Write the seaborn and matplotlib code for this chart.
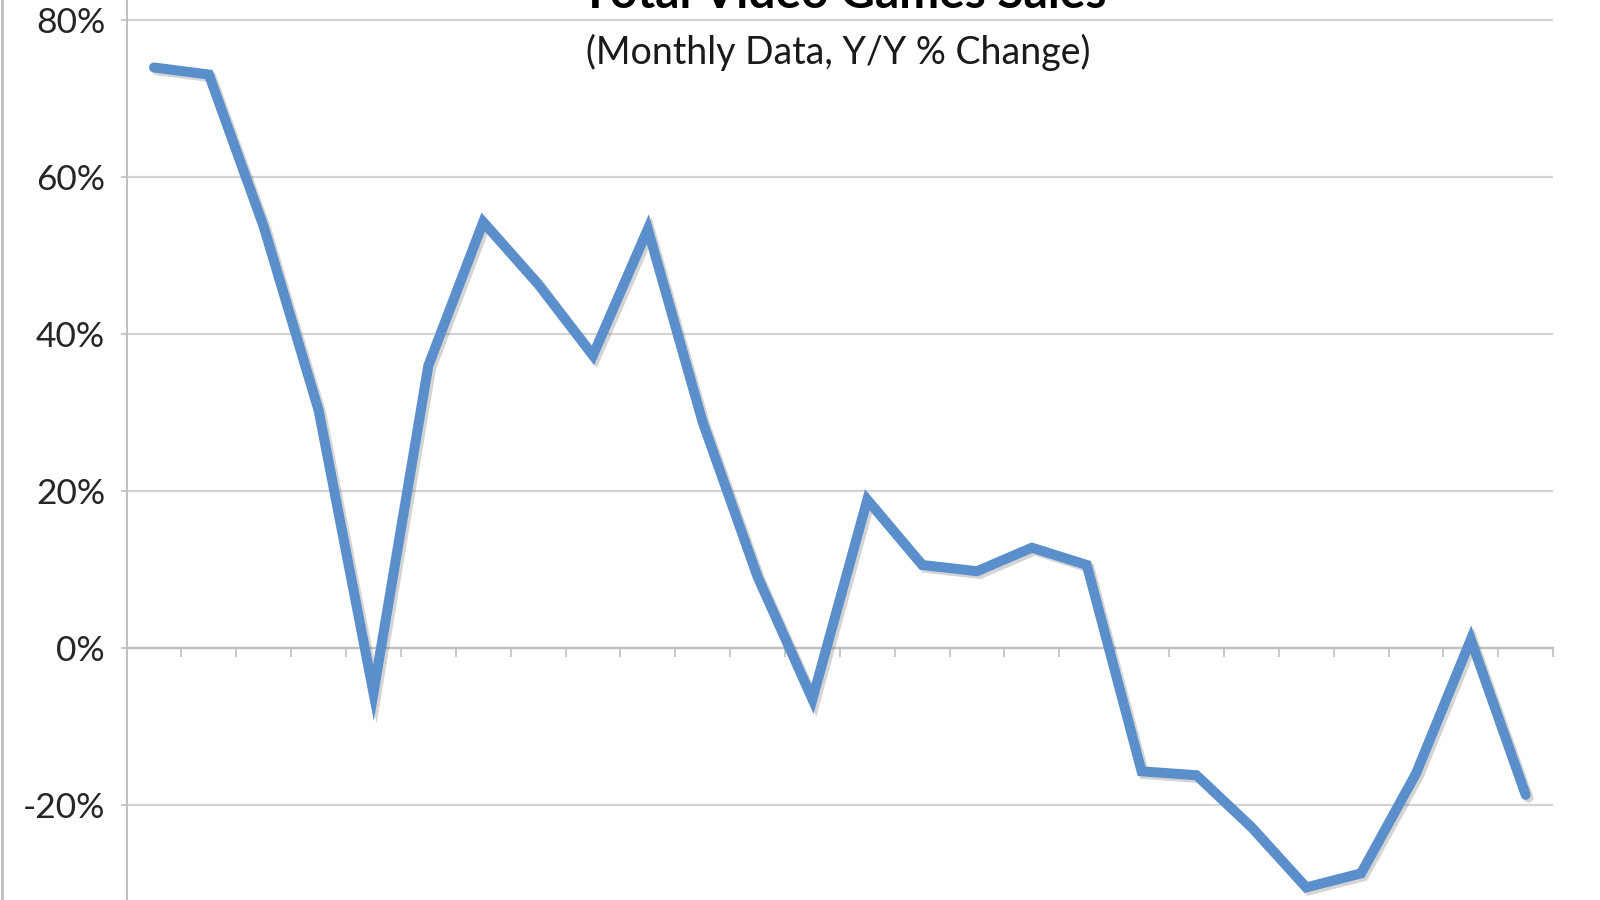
import numpy as np
import pandas as pd
import matplotlib
matplotlib.use("Agg")
import matplotlib.pyplot as plt
import matplotlib.patheffects as pe
from matplotlib.lines import Line2D
from matplotlib.ticker import FuncFormatter
import seaborn as sns

# Monthly Y/Y % change (26 months)
months = list(range(1, 27))
yoy_change = [74.0, 73.1, 53.7, 30.3, -5.7, 36.0, 54.3, 46.4, 37.3, 53.4,
              28.8, 9.1, -6.5, 18.9, 10.6, 9.8, 12.8, 10.6, -15.7, -16.2,
              -22.8, -30.5, -28.7, -16.0, 1.1, -18.7]
y_ticks = [-20, 0, 20, 40, 60, 80]

title = "Total Video Games Sales"
subtitle = "(Monthly Data, Y/Y % Change)"

df = pd.DataFrame({"month": months, "change": yoy_change})

sns.set_style("white")
plt.rcParams["font.family"] = ["Lato", "DejaVu Sans"]

fig = plt.figure(figsize=(16, 9), dpi=100)
ax = fig.add_axes([0.0791, 0.0, 0.8916, 1.0])

sns.lineplot(data=df, x="month", y="change", ax=ax, color="#5A8FCB",
             linewidth=7.2, solid_joinstyle="miter", zorder=3,
             path_effects=[pe.SimpleLineShadow(offset=(2, -2), shadow_color="#555555", alpha=0.25),
                           pe.Normal()])

ax.set_xlim(months[0] - 0.5, months[-1] + 0.5)
ax.set_ylim(-32.1, 82.6)

# horizontal gridlines
ax.set_yticks(y_ticks)
ax.yaxis.grid(True, color="#D3D3D3", linewidth=1.6)
ax.set_axisbelow(True)
ax.yaxis.set_major_formatter(FuncFormatter(lambda v, _: f"{v:.0f}%"))
ax.tick_params(axis="y", left=True, direction="out", length=4.5, width=1.2, color="#BFBFBF",
               pad=11, labelsize=25.5, labelcolor="#262626")

# category axis sits on the 0% line with ticks between months
ax.set_xticks(np.arange(months[0] - 0.5, months[-1] + 1, 1.0))
ax.set_xticklabels([])
ax.tick_params(axis="x", bottom=True, direction="out", length=6.5, width=1.2, color="#BFBFBF")
ax.spines["bottom"].set_position(("data", 0))
ax.spines["bottom"].set_color("#BFBFBF")
ax.spines["bottom"].set_linewidth(1.6)
ax.spines["left"].set_color("#BFBFBF")
ax.spines["left"].set_linewidth(1.4)
ax.spines["top"].set_visible(False)
ax.spines["right"].set_visible(False)
ax.set_xlabel("")
ax.set_ylabel("")

# chart border on the left edge
fig.add_artist(Line2D([0.001, 0.001], [0, 1], transform=fig.transFigure,
                      color="#BFBFBF", linewidth=2))

fig.text(0.527, 0.991, title, ha="center", va="baseline", fontsize=34.5,
         fontweight="bold", color="#000000")
fig.text(0.524, 0.942, subtitle, ha="center", va="center", fontsize=27,
         color="#1a1a1a")

fig.savefig("out.png", dpi=100)
